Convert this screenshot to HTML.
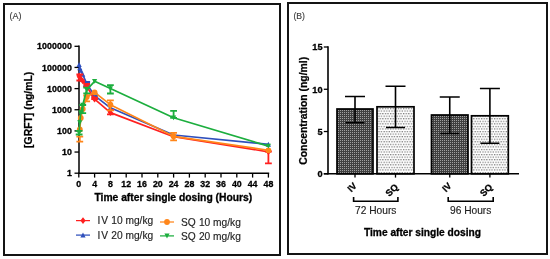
<!DOCTYPE html>
<html><head><meta charset="utf-8"><style>
html,body{margin:0;padding:0;background:#fff;}
body{width:550px;height:259px;position:relative;overflow:hidden;}
</style></head><body>
<svg width="550" height="259" viewBox="0 0 550 259" style="position:absolute;left:0;top:0"><defs><pattern id="dk" x="0" y="0" width="2" height="2" patternUnits="userSpaceOnUse"><rect width="2" height="2" fill="#404040"/><rect width="1" height="1" fill="#a0a0a0"/></pattern><pattern id="lt" x="0" y="0.4" width="2.6" height="5.12" patternUnits="userSpaceOnUse"><rect width="2.6" height="5.12" fill="#ffffff"/><rect width="1.3" height="1.2" fill="#7a7a7a"/><rect x="1.3" y="2.56" width="1.3" height="1.2" fill="#7a7a7a"/></pattern></defs><rect x="4" y="4" width="276" height="251" fill="none" stroke="#141414" stroke-width="2"/><rect x="288" y="3" width="259" height="251" fill="none" stroke="#141414" stroke-width="2"/><text x="9.5" y="19.3" font-family='"Liberation Sans", Arial, Helvetica, sans-serif' font-size="9" font-weight="normal" fill="#3a3a3a" text-anchor="start" stroke="#3a3a3a" stroke-width="0.12">(A)</text><path d="M79 45.6V173.3" stroke="#000" stroke-width="1.5" fill="none"/><path d="M74.5 46.30H79" stroke="#000" stroke-width="1.3"/><text x="72.0" y="49.40" font-family='"Liberation Sans", Arial, Helvetica, sans-serif' font-size="8.8" font-weight="bold" fill="#000" stroke="#000" stroke-width="0.3" text-anchor="end" letter-spacing="0.12">1000000</text><path d="M74.5 67.45H79" stroke="#000" stroke-width="1.3"/><text x="72.0" y="70.55" font-family='"Liberation Sans", Arial, Helvetica, sans-serif' font-size="8.8" font-weight="bold" fill="#000" stroke="#000" stroke-width="0.3" text-anchor="end" letter-spacing="0.12">100000</text><path d="M74.5 88.60H79" stroke="#000" stroke-width="1.3"/><text x="72.0" y="91.70" font-family='"Liberation Sans", Arial, Helvetica, sans-serif' font-size="8.8" font-weight="bold" fill="#000" stroke="#000" stroke-width="0.3" text-anchor="end" letter-spacing="0.12">10000</text><path d="M74.5 109.75H79" stroke="#000" stroke-width="1.3"/><text x="72.0" y="112.85" font-family='"Liberation Sans", Arial, Helvetica, sans-serif' font-size="8.8" font-weight="bold" fill="#000" stroke="#000" stroke-width="0.3" text-anchor="end" letter-spacing="0.12">1000</text><path d="M74.5 130.90H79" stroke="#000" stroke-width="1.3"/><text x="72.0" y="134.00" font-family='"Liberation Sans", Arial, Helvetica, sans-serif' font-size="8.8" font-weight="bold" fill="#000" stroke="#000" stroke-width="0.3" text-anchor="end" letter-spacing="0.12">100</text><path d="M74.5 152.05H79" stroke="#000" stroke-width="1.3"/><text x="72.0" y="155.15" font-family='"Liberation Sans", Arial, Helvetica, sans-serif' font-size="8.8" font-weight="bold" fill="#000" stroke="#000" stroke-width="0.3" text-anchor="end" letter-spacing="0.12">10</text><path d="M74.5 173.20H79" stroke="#000" stroke-width="1.3"/><text x="72.0" y="176.30" font-family='"Liberation Sans", Arial, Helvetica, sans-serif' font-size="8.8" font-weight="bold" fill="#000" stroke="#000" stroke-width="0.3" text-anchor="end" letter-spacing="0.12">1</text><path d="M78.3 173.3H269.2" stroke="#000" stroke-width="1.5"/><path d="M78.80 173.3V177.6" stroke="#000" stroke-width="1.3"/><text x="78.80" y="186.9" font-family='"Liberation Sans", Arial, Helvetica, sans-serif' font-size="8.8" font-weight="bold" fill="#000" stroke="#000" stroke-width="0.3" text-anchor="middle" >0</text><path d="M94.60 173.3V177.6" stroke="#000" stroke-width="1.3"/><text x="94.60" y="186.9" font-family='"Liberation Sans", Arial, Helvetica, sans-serif' font-size="8.8" font-weight="bold" fill="#000" stroke="#000" stroke-width="0.3" text-anchor="middle" >4</text><path d="M110.40 173.3V177.6" stroke="#000" stroke-width="1.3"/><text x="110.40" y="186.9" font-family='"Liberation Sans", Arial, Helvetica, sans-serif' font-size="8.8" font-weight="bold" fill="#000" stroke="#000" stroke-width="0.3" text-anchor="middle" >8</text><path d="M126.20 173.3V177.6" stroke="#000" stroke-width="1.3"/><text x="126.20" y="186.9" font-family='"Liberation Sans", Arial, Helvetica, sans-serif' font-size="8.8" font-weight="bold" fill="#000" stroke="#000" stroke-width="0.3" text-anchor="middle" >12</text><path d="M142.00 173.3V177.6" stroke="#000" stroke-width="1.3"/><text x="142.00" y="186.9" font-family='"Liberation Sans", Arial, Helvetica, sans-serif' font-size="8.8" font-weight="bold" fill="#000" stroke="#000" stroke-width="0.3" text-anchor="middle" >16</text><path d="M157.80 173.3V177.6" stroke="#000" stroke-width="1.3"/><text x="157.80" y="186.9" font-family='"Liberation Sans", Arial, Helvetica, sans-serif' font-size="8.8" font-weight="bold" fill="#000" stroke="#000" stroke-width="0.3" text-anchor="middle" >20</text><path d="M173.60 173.3V177.6" stroke="#000" stroke-width="1.3"/><text x="173.60" y="186.9" font-family='"Liberation Sans", Arial, Helvetica, sans-serif' font-size="8.8" font-weight="bold" fill="#000" stroke="#000" stroke-width="0.3" text-anchor="middle" >24</text><path d="M189.40 173.3V177.6" stroke="#000" stroke-width="1.3"/><text x="189.40" y="186.9" font-family='"Liberation Sans", Arial, Helvetica, sans-serif' font-size="8.8" font-weight="bold" fill="#000" stroke="#000" stroke-width="0.3" text-anchor="middle" >28</text><path d="M205.20 173.3V177.6" stroke="#000" stroke-width="1.3"/><text x="205.20" y="186.9" font-family='"Liberation Sans", Arial, Helvetica, sans-serif' font-size="8.8" font-weight="bold" fill="#000" stroke="#000" stroke-width="0.3" text-anchor="middle" >32</text><path d="M221.00 173.3V177.6" stroke="#000" stroke-width="1.3"/><text x="221.00" y="186.9" font-family='"Liberation Sans", Arial, Helvetica, sans-serif' font-size="8.8" font-weight="bold" fill="#000" stroke="#000" stroke-width="0.3" text-anchor="middle" >36</text><path d="M236.80 173.3V177.6" stroke="#000" stroke-width="1.3"/><text x="236.80" y="186.9" font-family='"Liberation Sans", Arial, Helvetica, sans-serif' font-size="8.8" font-weight="bold" fill="#000" stroke="#000" stroke-width="0.3" text-anchor="middle" >40</text><path d="M252.60 173.3V177.6" stroke="#000" stroke-width="1.3"/><text x="252.60" y="186.9" font-family='"Liberation Sans", Arial, Helvetica, sans-serif' font-size="8.8" font-weight="bold" fill="#000" stroke="#000" stroke-width="0.3" text-anchor="middle" >44</text><path d="M268.40 173.3V177.6" stroke="#000" stroke-width="1.3"/><text x="268.40" y="186.9" font-family='"Liberation Sans", Arial, Helvetica, sans-serif' font-size="8.8" font-weight="bold" fill="#000" stroke="#000" stroke-width="0.3" text-anchor="middle" >48</text><text x="173.3" y="201" font-family='"Liberation Sans", Arial, Helvetica, sans-serif' font-size="10.3" font-weight="bold" fill="#000" stroke="#000" stroke-width="0.3" text-anchor="middle" >Time after single dosing (Hours)</text><text transform="translate(31.9 109.8) rotate(-90)" font-family='"Liberation Sans", Arial, Helvetica, sans-serif' font-size="10.4" font-weight="bold" stroke="#000" stroke-width="0.25" text-anchor="middle">[GRFT] (ng/mL)</text><polyline points="79.13,64.60 79.79,68.00 80.77,70.50 82.75,74.50 86.70,83.60 94.60,95.60 110.40,107.80 173.60,135.00 268.40,144.40" fill="none" stroke="#2f4fbc" stroke-width="1.7" stroke-linejoin="round"/><path d="M86.70 82V86.2M83.30 82H90.10M83.30 86.2H90.10" stroke="#2f4fbc" stroke-width="1.8" fill="none"/><path d="M94.60 94.4V95.9M91.20 94.4H98.00M91.20 95.9H98.00" stroke="#2f4fbc" stroke-width="1.8" fill="none"/><path d="M79.13 62.00L81.73 66.90L76.53 66.90Z" fill="#2f4fbc"/><path d="M79.79 65.40L82.39 70.30L77.19 70.30Z" fill="#2f4fbc"/><path d="M80.77 67.90L83.37 72.80L78.17 72.80Z" fill="#2f4fbc"/><path d="M82.75 71.90L85.35 76.80L80.15 76.80Z" fill="#2f4fbc"/><path d="M86.70 81.00L89.30 85.90L84.10 85.90Z" fill="#2f4fbc"/><path d="M94.60 93.00L97.20 97.90L92.00 97.90Z" fill="#2f4fbc"/><path d="M110.40 105.20L113.00 110.10L107.80 110.10Z" fill="#2f4fbc"/><path d="M173.60 132.40L176.20 137.30L171.00 137.30Z" fill="#2f4fbc"/><path d="M268.40 141.80L271.00 146.70L265.80 146.70Z" fill="#2f4fbc"/><polyline points="79.13,76.00 79.79,77.50 80.77,79.00 82.75,81.00 86.70,86.20 94.60,99.20 110.40,112.60 173.60,136.70 268.40,151.80" fill="none" stroke="#ff2020" stroke-width="1.7" stroke-linejoin="round"/><path d="M268.40 151.5V163.3M265.00 151.5H271.80M265.00 163.3H271.80" stroke="#ff2020" stroke-width="1.8" fill="none"/><path d="M94.60 97.6V99.2M91.20 97.6H98.00M91.20 99.2H98.00" stroke="#ff2020" stroke-width="1.8" fill="none"/><path d="M110.40 110V114.4M107.00 110H113.80M107.00 114.4H113.80" stroke="#ff2020" stroke-width="1.8" fill="none"/><path d="M86.70 84V86.5M83.30 84H90.10M83.30 86.5H90.10" stroke="#ff2020" stroke-width="1.8" fill="none"/><path d="M79.79 74.5V80.5M76.39 74.5H83.19M76.39 80.5H83.19" stroke="#ff2020" stroke-width="1.8" fill="none"/><path d="M79.13 72.70L81.73 76.00L79.13 79.30L76.53 76.00Z" fill="#ff2020"/><path d="M79.79 74.20L82.39 77.50L79.79 80.80L77.19 77.50Z" fill="#ff2020"/><path d="M80.77 75.70L83.37 79.00L80.77 82.30L78.17 79.00Z" fill="#ff2020"/><path d="M82.75 77.70L85.35 81.00L82.75 84.30L80.15 81.00Z" fill="#ff2020"/><path d="M86.70 82.90L89.30 86.20L86.70 89.50L84.10 86.20Z" fill="#ff2020"/><path d="M94.60 95.90L97.20 99.20L94.60 102.50L92.00 99.20Z" fill="#ff2020"/><path d="M110.40 109.30L113.00 112.60L110.40 115.90L107.80 112.60Z" fill="#ff2020"/><path d="M173.60 133.40L176.20 136.70L173.60 140.00L171.00 136.70Z" fill="#ff2020"/><path d="M268.40 148.50L271.00 151.80L268.40 155.10L265.80 151.80Z" fill="#ff2020"/><polyline points="79.79,129.50 80.77,118.00 82.75,109.00 86.70,97.00 94.60,92.30 110.40,104.70 173.60,136.30 268.40,150.30" fill="none" stroke="#ff861a" stroke-width="1.7" stroke-linejoin="round"/><path d="M79.79 136.6V141.6M76.39 136.6H83.19M76.39 141.6H83.19" stroke="#ff861a" stroke-width="1.8" fill="none"/><path d="M86.70 95.5V101.3M83.30 95.5H90.10M83.30 101.3H90.10" stroke="#ff861a" stroke-width="1.8" fill="none"/><path d="M110.40 100.3V110.3M107.00 100.3H113.80M107.00 110.3H113.80" stroke="#ff861a" stroke-width="1.8" fill="none"/><path d="M173.60 132.8V140.3M170.20 132.8H177.00M170.20 140.3H177.00" stroke="#ff861a" stroke-width="1.8" fill="none"/><circle cx="79.79" cy="129.50" r="2.9" fill="#ff861a"/><circle cx="80.77" cy="118.00" r="2.9" fill="#ff861a"/><circle cx="82.75" cy="109.00" r="2.9" fill="#ff861a"/><circle cx="86.70" cy="97.00" r="2.9" fill="#ff861a"/><circle cx="94.60" cy="92.30" r="2.9" fill="#ff861a"/><circle cx="110.40" cy="104.70" r="2.9" fill="#ff861a"/><circle cx="173.60" cy="136.30" r="2.9" fill="#ff861a"/><circle cx="268.40" cy="150.30" r="2.9" fill="#ff861a"/><polyline points="79.13,133.00 79.79,122.50 80.77,112.50 82.75,105.00 86.70,89.80 94.60,81.30 110.40,88.60 173.60,117.80 268.40,146.10" fill="none" stroke="#1cae3e" stroke-width="1.7" stroke-linejoin="round"/><path d="M79.13 130.8V134.5M75.73 130.8H82.53M75.73 134.5H82.53" stroke="#1cae3e" stroke-width="1.8" fill="none"/><path d="M82.75 105V113.2M79.35 105H86.15M79.35 113.2H86.15" stroke="#1cae3e" stroke-width="1.8" fill="none"/><path d="M86.70 87.7V93.4M83.30 87.7H90.10M83.30 93.4H90.10" stroke="#1cae3e" stroke-width="1.8" fill="none"/><path d="M110.40 85.1V93.5M107.00 85.1H113.80M107.00 93.5H113.80" stroke="#1cae3e" stroke-width="1.8" fill="none"/><path d="M173.60 110.9V117.8M170.20 110.9H177.00M170.20 117.8H177.00" stroke="#1cae3e" stroke-width="1.8" fill="none"/><path d="M79.13 135.50L81.73 130.70L76.53 130.70Z" fill="#1cae3e"/><path d="M79.79 125.00L82.39 120.20L77.19 120.20Z" fill="#1cae3e"/><path d="M80.77 115.00L83.37 110.20L78.17 110.20Z" fill="#1cae3e"/><path d="M82.75 107.50L85.35 102.70L80.15 102.70Z" fill="#1cae3e"/><path d="M86.70 92.30L89.30 87.50L84.10 87.50Z" fill="#1cae3e"/><path d="M94.60 83.80L97.20 79.00L92.00 79.00Z" fill="#1cae3e"/><path d="M110.40 91.10L113.00 86.30L107.80 86.30Z" fill="#1cae3e"/><path d="M173.60 120.30L176.20 115.50L171.00 115.50Z" fill="#1cae3e"/><path d="M268.40 148.60L271.00 143.80L265.80 143.80Z" fill="#1cae3e"/><path d="M76 220.6H90" stroke="#ff2020" stroke-width="1.25"/><path d="M83.00 217.30L85.60 220.60L83.00 223.90L80.40 220.60Z" fill="#ff2020"/><text x="97.4" y="224" font-family='"Liberation Sans", Arial, Helvetica, sans-serif' font-size="10.2" font-weight="normal" fill="#1e1e1e" text-anchor="start" stroke="#1e1e1e" stroke-width="0.15">I<tspan dx="0.9">V</tspan><tspan dx="0.5"> 10 mg/kg</tspan></text><path d="M76 235.1H90" stroke="#2f4fbc" stroke-width="1.25"/><path d="M83.00 232.50L85.60 237.40L80.40 237.40Z" fill="#2f4fbc"/><text x="97.4" y="238.6" font-family='"Liberation Sans", Arial, Helvetica, sans-serif' font-size="10.2" font-weight="normal" fill="#1e1e1e" text-anchor="start" stroke="#1e1e1e" stroke-width="0.15">I<tspan dx="0.9">V</tspan><tspan dx="0.5"> 20 mg/kg</tspan></text><path d="M160 222H174" stroke="#ff861a" stroke-width="1.25"/><circle cx="167.00" cy="222.00" r="2.9" fill="#ff861a"/><text x="181.0" y="225.5" font-family='"Liberation Sans", Arial, Helvetica, sans-serif' font-size="10.2" font-weight="normal" fill="#1e1e1e" text-anchor="start" stroke="#1e1e1e" stroke-width="0.15">SQ<tspan dx="0.4"> 10 mg/kg</tspan></text><path d="M160 235.9H174" stroke="#1cae3e" stroke-width="1.25"/><path d="M167.00 238.40L169.60 233.60L164.40 233.60Z" fill="#1cae3e"/><text x="181.0" y="240" font-family='"Liberation Sans", Arial, Helvetica, sans-serif' font-size="10.2" font-weight="normal" fill="#1e1e1e" text-anchor="start" stroke="#1e1e1e" stroke-width="0.15">SQ<tspan dx="0.4"> 20 mg/kg</tspan></text><text x="293.4" y="18.7" font-family='"Liberation Sans", Arial, Helvetica, sans-serif' font-size="8.7" font-weight="normal" fill="#3a3a3a" text-anchor="start" stroke="#3a3a3a" stroke-width="0.12">(B)</text><path d="M328 46.3V174.5" stroke="#000" stroke-width="1.6" fill="none"/><path d="M323.8 173.80H328" stroke="#000" stroke-width="1.3"/><text x="322.6" y="177.10" font-family='"Liberation Sans", Arial, Helvetica, sans-serif' font-size="9.2" font-weight="bold" fill="#000" stroke="#000" stroke-width="0.3" text-anchor="end" >0</text><path d="M323.8 131.53H328" stroke="#000" stroke-width="1.3"/><text x="322.6" y="134.83" font-family='"Liberation Sans", Arial, Helvetica, sans-serif' font-size="9.2" font-weight="bold" fill="#000" stroke="#000" stroke-width="0.3" text-anchor="end" >5</text><path d="M323.8 89.27H328" stroke="#000" stroke-width="1.3"/><text x="322.6" y="92.57" font-family='"Liberation Sans", Arial, Helvetica, sans-serif' font-size="9.2" font-weight="bold" fill="#000" stroke="#000" stroke-width="0.3" text-anchor="end" >10</text><path d="M323.8 47.00H328" stroke="#000" stroke-width="1.3"/><text x="322.6" y="50.30" font-family='"Liberation Sans", Arial, Helvetica, sans-serif' font-size="9.2" font-weight="bold" fill="#000" stroke="#000" stroke-width="0.3" text-anchor="end" >15</text><path d="M323.8 173.8H519" stroke="#000" stroke-width="1.6"/><rect x="337" y="109" width="36" height="64.80000000000001" fill="url(#dk)" stroke="#000" stroke-width="1.7"/><path d="M355.00 96.5V122.7M345.00 96.5H365.00M345.50 122.7H364.50" stroke="#000" stroke-width="1.6" fill="none"/><path d="M355.00 173.8V177.6" stroke="#000" stroke-width="1.3"/><rect x="377" y="106.8" width="37" height="67.00000000000001" fill="url(#lt)" stroke="#000" stroke-width="1.7"/><path d="M395.50 86.2V127.5M385.50 86.2H405.50M386.00 127.5H405.00" stroke="#000" stroke-width="1.6" fill="none"/><path d="M395.50 173.8V177.6" stroke="#000" stroke-width="1.3"/><rect x="431.5" y="115" width="36.5" height="58.80000000000001" fill="url(#dk)" stroke="#000" stroke-width="1.7"/><path d="M449.75 97V133.5M439.75 97H459.75M440.25 133.5H459.25" stroke="#000" stroke-width="1.6" fill="none"/><path d="M449.75 173.8V177.6" stroke="#000" stroke-width="1.3"/><rect x="471.5" y="115.8" width="36.80000000000001" height="58.000000000000014" fill="url(#lt)" stroke="#000" stroke-width="1.7"/><path d="M489.90 88.5V143.2M479.90 88.5H499.90M480.40 143.2H499.40" stroke="#000" stroke-width="1.6" fill="none"/><path d="M489.90 173.8V177.6" stroke="#000" stroke-width="1.3"/><text transform="translate(352.80 181.80) rotate(-45)" font-family='"Liberation Sans", Arial, Helvetica, sans-serif' font-size="9.2" font-weight="bold" stroke="#000" stroke-width="0.3" text-anchor="end" dominant-baseline="hanging">IV</text><text transform="translate(394.20 183.20) rotate(-45)" font-family='"Liberation Sans", Arial, Helvetica, sans-serif' font-size="9.2" font-weight="bold" stroke="#000" stroke-width="0.3" text-anchor="end" dominant-baseline="hanging">SQ</text><text transform="translate(447.50 181.80) rotate(-45)" font-family='"Liberation Sans", Arial, Helvetica, sans-serif' font-size="9.2" font-weight="bold" stroke="#000" stroke-width="0.3" text-anchor="end" dominant-baseline="hanging">IV</text><text transform="translate(488.60 183.20) rotate(-45)" font-family='"Liberation Sans", Arial, Helvetica, sans-serif' font-size="9.2" font-weight="bold" stroke="#000" stroke-width="0.3" text-anchor="end" dominant-baseline="hanging">SQ</text><path d="M353.6 197V201.3H397.9V197" stroke="#000" stroke-width="1.6" fill="none"/><text x="375.75" y="213.8" font-family='"Liberation Sans", Arial, Helvetica, sans-serif' font-size="10.2" font-weight="normal" fill="#1e1e1e" text-anchor="middle" stroke="#1e1e1e" stroke-width="0.15">72 Hours</text><path d="M448.2 197V201.3H493.2V197" stroke="#000" stroke-width="1.6" fill="none"/><text x="470.70" y="213.8" font-family='"Liberation Sans", Arial, Helvetica, sans-serif' font-size="10.2" font-weight="normal" fill="#1e1e1e" text-anchor="middle" stroke="#1e1e1e" stroke-width="0.15">96 Hours</text><text transform="translate(306.8 110.8) rotate(-90)" font-family='"Liberation Sans", Arial, Helvetica, sans-serif' font-size="10.4" font-weight="bold" stroke="#000" stroke-width="0.25" text-anchor="middle">Concentration (ng/ml)</text><text x="422.5" y="235.6" font-family='"Liberation Sans", Arial, Helvetica, sans-serif' font-size="10.2" font-weight="bold" fill="#000" stroke="#000" stroke-width="0.3" text-anchor="middle" >Time after single dosing</text></svg>
</body></html>
